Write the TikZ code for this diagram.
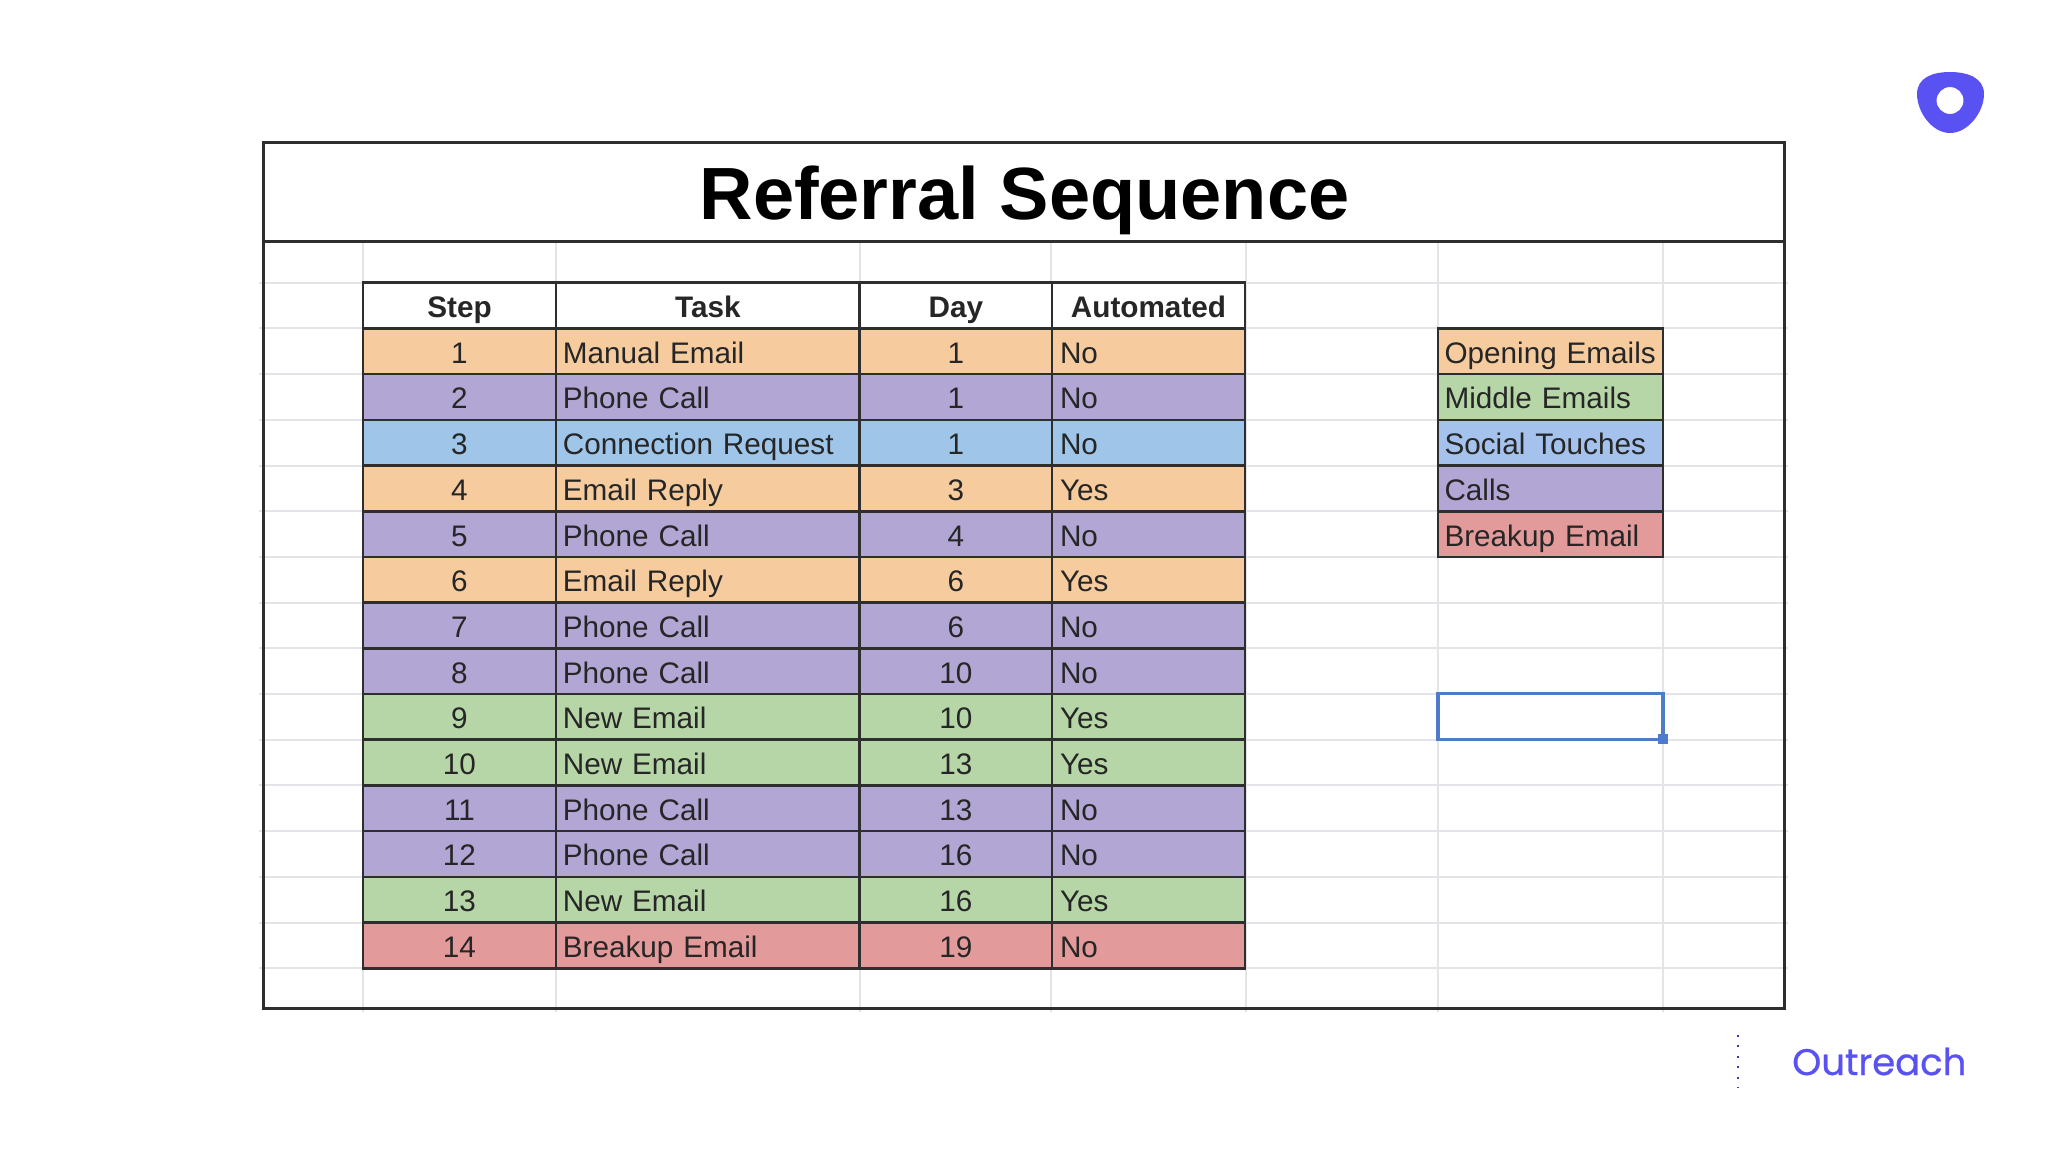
\documentclass[tikz,border=0pt]{standalone}
\usepackage{fontspec}
\setmainfont{Liberation Sans}
\newfontfamily\brandfont[FakeBold=0.7]{Poppins}
\usetikzlibrary{positioning}
\definecolor{emailcol}{HTML}{F6CC9E}
\definecolor{callcol}{HTML}{B2A6D4}
\definecolor{socialcol}{HTML}{9FC5E8}
\definecolor{legsocial}{HTML}{A4C2EC}
\definecolor{midcol}{HTML}{B6D6A8}
\definecolor{endcol}{HTML}{E39A9A}
\definecolor{gridcol}{HTML}{E4E4E8}
\definecolor{framecol}{HTML}{2E2E2E}
\definecolor{pickcol}{HTML}{4F7CC9}
\definecolor{brandcol}{HTML}{5951F2}
\begin{document}
\begin{tikzpicture}[x=1pt,y=-1pt,node distance=0pt]
\tikzstyle {cell}=[rectangle, draw=framecol, line width=2.6pt, outer sep=0pt, inner sep=0pt, minimum height=45.7pt, text height=30.5pt, text depth=6.5pt, text=black!85, font=\fontsize{29.7}{32}\selectfont]
\tikzstyle {stepc}=[cell, minimum width=193pt, text width=193pt, align=center]
\tikzstyle {taskc}=[cell, minimum width=303.6pt, text width=290pt, align=left]
\tikzstyle {dayc}=[cell, minimum width=192.4pt, text width=192.4pt, align=center]
\tikzstyle {autoc}=[cell, minimum width=193pt, text width=177pt, align=left]
\tikzstyle {legc}=[cell, minimum width=225pt, text width=212pt, align=left]
\tikzstyle {head}=[font=\fontsize{29.7}{32}\selectfont\bfseries, fill=white]
\tikzstyle {box}=[rectangle, outer sep=0pt, inner sep=0pt, anchor=north west]
\useasboundingbox (0,0) rectangle (2048,1152);
% sheet grid
\foreach \gx in {363,556,859.5,1051,1246,1438,1663}
  \draw[gridcol, line width=2pt] (\gx,241.7) -- (\gx,1012);
\foreach \gy in {282.7,328.4,374.1,419.8,465.5,511.2,556.9,602.6,648.3,694,739.7,785.4,831.1,876.8,922.5,968.2}
  \draw[gridcol, line width=2pt] (259,\gy) -- (1788,\gy);
% frame and title
\node (frame) [box, draw=framecol, line width=3pt, minimum width=1521.5pt, minimum height=865.5pt] at (263,142.5) {};
\node (titlebar) [box, draw=framecol, line width=3pt, minimum width=1521.5pt, minimum height=99.2pt] at (263,142.5) {};
\node (title) [font=\fontsize{74}{80}\selectfont\bfseries] at (1024.5,200) {Referral Sequence};
% table
\node (h0) [stepc, head, anchor=north west] at (363,282.7) {Step};
\node (h1) [dayc, head, minimum width=303.6pt, text width=303.6pt, right=of h0] {Task};
\node (h2) [dayc, head, right=of h1] {Day};
\node (h3) [dayc, head, minimum width=193pt, text width=193pt, right=of h2] {Automated};
\node (s1) [stepc, fill=emailcol, below=of h0] {1};
\node (t1) [taskc, fill=emailcol, right=of s1] {Manual Email};
\node (d1) [dayc, fill=emailcol, right=of t1] {1};
\node (a1) [autoc, fill=emailcol, right=of d1] {No};
\node (s2) [stepc, fill=callcol, below=of s1] {2};
\node (t2) [taskc, fill=callcol, right=of s2] {Phone Call};
\node (d2) [dayc, fill=callcol, right=of t2] {1};
\node (a2) [autoc, fill=callcol, right=of d2] {No};
\node (s3) [stepc, fill=socialcol, below=of s2] {3};
\node (t3) [taskc, fill=socialcol, right=of s3] {Connection Request};
\node (d3) [dayc, fill=socialcol, right=of t3] {1};
\node (a3) [autoc, fill=socialcol, right=of d3] {No};
\node (s4) [stepc, fill=emailcol, below=of s3] {4};
\node (t4) [taskc, fill=emailcol, right=of s4] {Email Reply};
\node (d4) [dayc, fill=emailcol, right=of t4] {3};
\node (a4) [autoc, fill=emailcol, right=of d4] {Yes};
\node (s5) [stepc, fill=callcol, below=of s4] {5};
\node (t5) [taskc, fill=callcol, right=of s5] {Phone Call};
\node (d5) [dayc, fill=callcol, right=of t5] {4};
\node (a5) [autoc, fill=callcol, right=of d5] {No};
\node (s6) [stepc, fill=emailcol, below=of s5] {6};
\node (t6) [taskc, fill=emailcol, right=of s6] {Email Reply};
\node (d6) [dayc, fill=emailcol, right=of t6] {6};
\node (a6) [autoc, fill=emailcol, right=of d6] {Yes};
\node (s7) [stepc, fill=callcol, below=of s6] {7};
\node (t7) [taskc, fill=callcol, right=of s7] {Phone Call};
\node (d7) [dayc, fill=callcol, right=of t7] {6};
\node (a7) [autoc, fill=callcol, right=of d7] {No};
\node (s8) [stepc, fill=callcol, below=of s7] {8};
\node (t8) [taskc, fill=callcol, right=of s8] {Phone Call};
\node (d8) [dayc, fill=callcol, right=of t8] {10};
\node (a8) [autoc, fill=callcol, right=of d8] {No};
\node (s9) [stepc, fill=midcol, below=of s8] {9};
\node (t9) [taskc, fill=midcol, right=of s9] {New Email};
\node (d9) [dayc, fill=midcol, right=of t9] {10};
\node (a9) [autoc, fill=midcol, right=of d9] {Yes};
\node (s10) [stepc, fill=midcol, below=of s9] {10};
\node (t10) [taskc, fill=midcol, right=of s10] {New Email};
\node (d10) [dayc, fill=midcol, right=of t10] {13};
\node (a10) [autoc, fill=midcol, right=of d10] {Yes};
\node (s11) [stepc, fill=callcol, below=of s10] {11};
\node (t11) [taskc, fill=callcol, right=of s11] {Phone Call};
\node (d11) [dayc, fill=callcol, right=of t11] {13};
\node (a11) [autoc, fill=callcol, right=of d11] {No};
\node (s12) [stepc, fill=callcol, below=of s11] {12};
\node (t12) [taskc, fill=callcol, right=of s12] {Phone Call};
\node (d12) [dayc, fill=callcol, right=of t12] {16};
\node (a12) [autoc, fill=callcol, right=of d12] {No};
\node (s13) [stepc, fill=midcol, below=of s12] {13};
\node (t13) [taskc, fill=midcol, right=of s13] {New Email};
\node (d13) [dayc, fill=midcol, right=of t13] {16};
\node (a13) [autoc, fill=midcol, right=of d13] {Yes};
\node (s14) [stepc, fill=endcol, below=of s13] {14};
\node (t14) [taskc, fill=endcol, right=of s14] {Breakup Email};
\node (d14) [dayc, fill=endcol, right=of t14] {19};
\node (a14) [autoc, fill=endcol, right=of d14] {No};
% legend
\node (leg1) [legc, fill=emailcol, anchor=north west] at (1438,328.4) {Opening Emails};
\node (leg2) [legc, fill=midcol, below=of leg1] {Middle Emails};
\node (leg3) [legc, fill=legsocial, below=of leg2] {Social Touches};
\node (leg4) [legc, fill=callcol, below=of leg3] {Calls};
\node (leg5) [legc, fill=endcol, below=of leg4] {Breakup Email};
% selected cell
\node (pick) [box, draw=pickcol, line width=3.4pt, fill=white, minimum width=225pt, minimum height=45.7pt] at (1438,693.6) {};
\node (handle) [rectangle, fill=pickcol, minimum size=10pt, inner sep=0pt] at (pick.south east) {};
% brand mark
\fill[brandcol, even odd rule] (1950,72) .. controls (1968,72) and (1984,78) .. (1984,94) .. controls (1984,112) and (1968,133) .. (1950,133) .. controls (1932,133) and (1917,112) .. (1917,94) .. controls (1917,78) and (1932,72) .. (1950,72) -- cycle
  (1950,100.5) circle (13.5);
\draw[brandcol!70!black, line width=2pt, dash pattern=on 2pt off 8.4pt] (1737.6,1035) -- (1737.6,1088);
\node (brand) [font=\brandfont\fontsize{37}{40}\selectfont, text=brandcol, inner sep=0pt, anchor=base west] at (1792,1075) {Outreach};
\end{tikzpicture}
\end{document}
